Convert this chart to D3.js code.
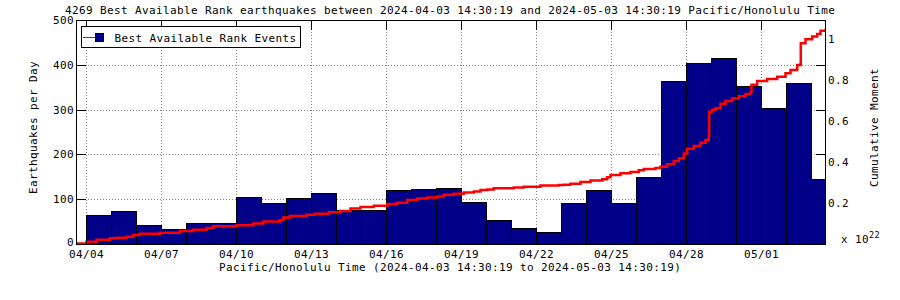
<!DOCTYPE html>
<html><head><meta charset="utf-8">
<script src="https://cdn.jsdelivr.net/npm/d3@7"></script>
<style>
body{margin:0;background:#fff;}
svg text{font-family:"DejaVu Sans Mono",monospace;}
</style>
</head><body><div id="chart"></div>
<script>
// ---------- data ----------
const titleText = "4269 Best Available Rank earthquakes between 2024-04-03 14:30:19 and 2024-05-03 14:30:19 Pacific/Honolulu Time";
const xTitleText = "Pacific/Honolulu Time (2024-04-03 14:30:19 to 2024-05-03 14:30:19)";
const yTitleText = "Earthquakes per Day";
const y2TitleText = "Cumulative Moment";
const legendLabel = "Best Available Rank Events";
const timeStart = "2024-04-03 14:30:19";
const timeEnd = "2024-05-03 14:30:19";

const barDays = ["2024-04-04","2024-04-05","2024-04-06","2024-04-07","2024-04-08","2024-04-09","2024-04-10","2024-04-11","2024-04-12","2024-04-13",
  "2024-04-14","2024-04-15","2024-04-16","2024-04-17","2024-04-18","2024-04-19","2024-04-20","2024-04-21","2024-04-22","2024-04-23",
  "2024-04-24","2024-04-25","2024-04-26","2024-04-27","2024-04-28","2024-04-29","2024-04-30","2024-05-01","2024-05-02","2024-05-03"];
const barCounts = [64,73,42,33,46,46,104,91,102,113,
  77,77,120,122,124,93,53,35,26,91,
  120,92,149,363,405,416,352,303,359,144];

const xTickDates = ["2024-04-04","2024-04-07","2024-04-10","2024-04-13","2024-04-16","2024-04-19","2024-04-22","2024-04-25","2024-04-28","2024-05-01"];
const xTickLabels = ["04/04","04/07","04/10","04/13","04/16","04/19","04/22","04/25","04/28","05/01"];
const yTicks = [0,100,200,300,400,500];
const y2Ticks = [0.2,0.4,0.6,0.8,1];
const y2TickLabels = ["0.2","0.4","0.6","0.8","1"];
const y2Max = 1.095;

const momentTimes = ["2024-04-03 14:31","2024-04-04 00:35","2024-04-04 10:10","2024-04-04 22:57","2024-04-05 05:23","2024-04-05 14:58","2024-04-05 21:25","2024-04-06 03:45","2024-04-06 22:57","2024-04-07 18:09",
  "2024-04-08 07:00","2024-04-08 19:47","2024-04-09 02:12","2024-04-10 00:35","2024-04-10 16:36","2024-04-11 02:12","2024-04-11 18:09","2024-04-11 21:25","2024-04-12 03:45","2024-04-12 19:47",
  "2024-04-13 03:45","2024-04-13 17:11","2024-04-14 04:25","2024-04-14 14:01","2024-04-14 23:37","2024-04-15 12:23","2024-04-16 01:15","2024-04-16 10:51","2024-04-16 20:27","2024-04-17 06:03",
  "2024-04-17 15:39","2024-04-18 01:15","2024-04-18 07:35","2024-04-18 17:11","2024-04-19 02:47","2024-04-19 12:23","2024-04-19 18:49","2024-04-20 01:15","2024-04-20 07:35","2024-04-21 02:47",
  "2024-04-21 12:23","2024-04-22 04:25","2024-04-22 21:59","2024-04-23 02:47","2024-04-23 09:13","2024-04-23 18:49","2024-04-24 04:25","2024-04-24 15:39","2024-04-24 20:27","2024-04-24 23:37",
  "2024-04-25 09:13","2024-04-25 18:49","2024-04-26 02:47","2024-04-26 07:35","2024-04-26 18:49","2024-04-26 23:37","2024-04-27 06:03","2024-04-27 12:23","2024-04-27 17:11","2024-04-27 21:59",
  "2024-04-28 01:15","2024-04-28 07:35","2024-04-28 14:01","2024-04-28 18:49","2024-04-28 21:59","2024-04-28 22:22","2024-04-29 01:15","2024-04-29 04:25","2024-04-29 09:13","2024-04-29 14:01",
  "2024-04-29 20:27","2024-04-30 02:47","2024-04-30 09:13","2024-04-30 14:01","2024-04-30 14:58","2024-04-30 20:27","2024-05-01 06:03","2024-05-01 15:39","2024-05-01 23:37","2024-05-02 04:25",
  "2024-05-02 10:51","2024-05-02 14:01","2024-05-02 14:18","2024-05-02 18:49","2024-05-03 01:15","2024-05-03 06:03","2024-05-03 09:13","2024-05-03 14:01","2024-05-03 14:30"];
const momentValues = [0.003,0.011,0.021,0.028,0.031,0.036,0.044,0.050,0.055,0.064,
  0.070,0.078,0.087,0.092,0.100,0.110,0.116,0.129,0.137,0.143,
  0.148,0.155,0.161,0.173,0.181,0.187,0.195,0.202,0.215,0.222,
  0.227,0.232,0.241,0.246,0.252,0.257,0.264,0.267,0.272,0.276,
  0.280,0.286,0.288,0.290,0.295,0.303,0.310,0.317,0.326,0.337,
  0.346,0.352,0.361,0.367,0.372,0.378,0.390,0.406,0.419,0.443,
  0.466,0.479,0.495,0.508,0.525,0.647,0.656,0.664,0.685,0.699,
  0.711,0.722,0.733,0.742,0.778,0.797,0.807,0.817,0.835,0.851,
  0.875,0.880,0.981,1.001,1.014,1.027,1.042,1.046,1.046];

// ---------- layout ----------
const W = 900, H = 300;
const L = 76, R = 826, T = 20, B = 244;
const FS = 11, LS = 0.38;

const parseFull = d3.timeParse("%Y-%m-%d %H:%M:%S");
const parseMin = d3.timeParse("%Y-%m-%d %H:%M");
const parseDay = d3.timeParse("%Y-%m-%d");

const x = d3.scaleTime().domain([parseFull(timeStart), parseFull(timeEnd)]).range([L, R]);
const y = d3.scaleLinear().domain([0, 500]).range([B, T]);
const y2 = d3.scaleLinear().domain([0, y2Max]).range([B, T]);

const svg = d3.select("#chart").append("svg").attr("width", W).attr("height", H);
svg.append("defs").append("clipPath").attr("id", "plotclip")
  .append("rect").attr("x", L).attr("y", T).attr("width", R - L).attr("height", B - T);

function styleText(sel, size) {
  sel.attr("font-family", "DejaVu Sans Mono, monospace")
     .attr("font-size", size || FS)
     .attr("letter-spacing", LS + "px")
     .attr("fill", "#000");
}

// grid
const grid = svg.append("g").attr("stroke", "#888").attr("stroke-width", 1)
  .attr("stroke-dasharray", "1,2").attr("shape-rendering", "crispEdges");
grid.selectAll("line.h").data(yTicks.filter(v => v > 0 && v < 500)).join("line")
  .attr("x1", L).attr("x2", R)
  .attr("y1", d => Math.round(y(d)) + 0.5).attr("y2", d => Math.round(y(d)) + 0.5);
grid.selectAll("line.v").data(xTickDates).join("line")
  .attr("y1", T).attr("y2", B)
  .attr("x1", d => Math.round(x(parseDay(d))) + 0.5).attr("x2", d => Math.round(x(parseDay(d))) + 0.5);

// bars
const plot = svg.append("g").attr("clip-path", "url(#plotclip)");
plot.selectAll("rect.bar").data(barDays).join("rect")
  .attr("class", "bar")
  .attr("x", d => Math.round(x(parseDay(d))) + 0.5)
  .attr("width", d => Math.round(x(d3.timeDay.offset(parseDay(d), 1))) - Math.round(x(parseDay(d))))
  .attr("y", (d, i) => Math.round(y(barCounts[i])) + 0.5)
  .attr("height", (d, i) => Math.round(B) - Math.round(y(barCounts[i])))
  .attr("fill", "#000088")
  .attr("stroke", "#000")
  .attr("stroke-width", 1)
  .attr("shape-rendering", "crispEdges");

// cumulative moment line
const pts = momentTimes.map((t, i) => [parseMin(t), momentValues[i]]);
plot.append("path")
  .datum(pts)
  .attr("fill", "none")
  .attr("stroke", "#ff0000")
  .attr("stroke-width", 2.5)
  .attr("d", d3.line().x(d => x(d[0])).y(d => y2(d[1])).curve(d3.curveStepAfter));

// frame
svg.append("rect").attr("x", L + 0.5).attr("y", T + 0.5).attr("width", R - L - 1).attr("height", B - T)
  .attr("fill", "none").attr("stroke", "#000").attr("stroke-width", 1).attr("shape-rendering", "crispEdges");

function cleanAxis(g) {
  g.select(".domain").remove();
  g.selectAll(".tick line").attr("stroke", "#000").attr("shape-rendering", "crispEdges");
  g.selectAll("text").call(styleText);
  g.attr("font-family", null).attr("font-size", null);
}

// left axis
const leftAxis = svg.append("g").attr("transform", `translate(${L + 0.5},0)`)
  .call(d3.axisLeft(y).tickValues(yTicks).tickSize(-9).tickPadding(2.5).tickFormat(d3.format("d")))
  .call(cleanAxis);
leftAxis.selectAll(".tick text").filter(d => d === 0).attr("dy", "0.15em");
// right mirror ticks
svg.append("g").attr("transform", `translate(${R - 0.5},0)`)
  .call(d3.axisRight(y).tickValues(yTicks.filter(v => v > 0 && v < 500)).tickSize(-10).tickFormat(""))
  .call(cleanAxis);
// right labels
svg.append("g").attr("transform", `translate(${R},0)`)
  .call(d3.axisRight(y2).tickValues(y2Ticks).tickSize(0).tickPadding(2).tickFormat((d, i) => y2TickLabels[i]))
  .call(cleanAxis);
// top mirror ticks
svg.append("g").attr("transform", `translate(0,${T + 0.5})`)
  .call(d3.axisTop(x).tickValues(xTickDates.map(parseDay)).tickSize(-9).tickFormat(""))
  .call(cleanAxis);
// bottom axis
svg.append("g").attr("transform", `translate(0,${B})`)
  .call(d3.axisBottom(x).tickValues(xTickDates.map(parseDay)).tickSize(-9).tickPadding(6.5)
    .tickFormat((d, i) => xTickLabels[i]))
  .call(cleanAxis);

// x10^22
const mult = svg.append("text").attr("x", 841).attr("y", 243).call(styleText);
mult.append("tspan").text("x 10");
mult.append("tspan").attr("dy", -5).attr("font-size", 8.5).attr("letter-spacing", "0.3px").text("22");

// titles
svg.append("text").attr("x", 65).attr("y", 13.5).text(titleText).call(styleText);
svg.append("text").attr("x", 219).attr("y", 270.5).text(xTitleText).call(styleText);
svg.append("text").attr("transform", "translate(37,127.5) rotate(-90)").attr("text-anchor", "middle")
  .text(yTitleText).call(styleText);
svg.append("text").attr("transform", "translate(878,127.5) rotate(-90)").attr("text-anchor", "middle")
  .text(y2TitleText).call(styleText);

// legend
const lg = svg.append("g");
lg.append("rect").attr("x", 81.5).attr("y", 26.5).attr("width", 219).attr("height", 21)
  .attr("fill", "#fff").attr("stroke", "#000").attr("stroke-width", 1).attr("shape-rendering", "crispEdges");
lg.append("line").attr("x1", 83).attr("x2", 95).attr("y1", 37.5).attr("y2", 37.5)
  .attr("stroke", "#ff0000").attr("stroke-width", 1);
lg.append("rect").attr("x", 95.5).attr("y", 33.5).attr("width", 8).attr("height", 8)
  .attr("fill", "#000088").attr("stroke", "#000").attr("stroke-width", 1).attr("shape-rendering", "crispEdges");
lg.append("text").attr("x", 114.5).attr("y", 41.5).text(legendLabel).call(styleText);
</script>
</body></html>
